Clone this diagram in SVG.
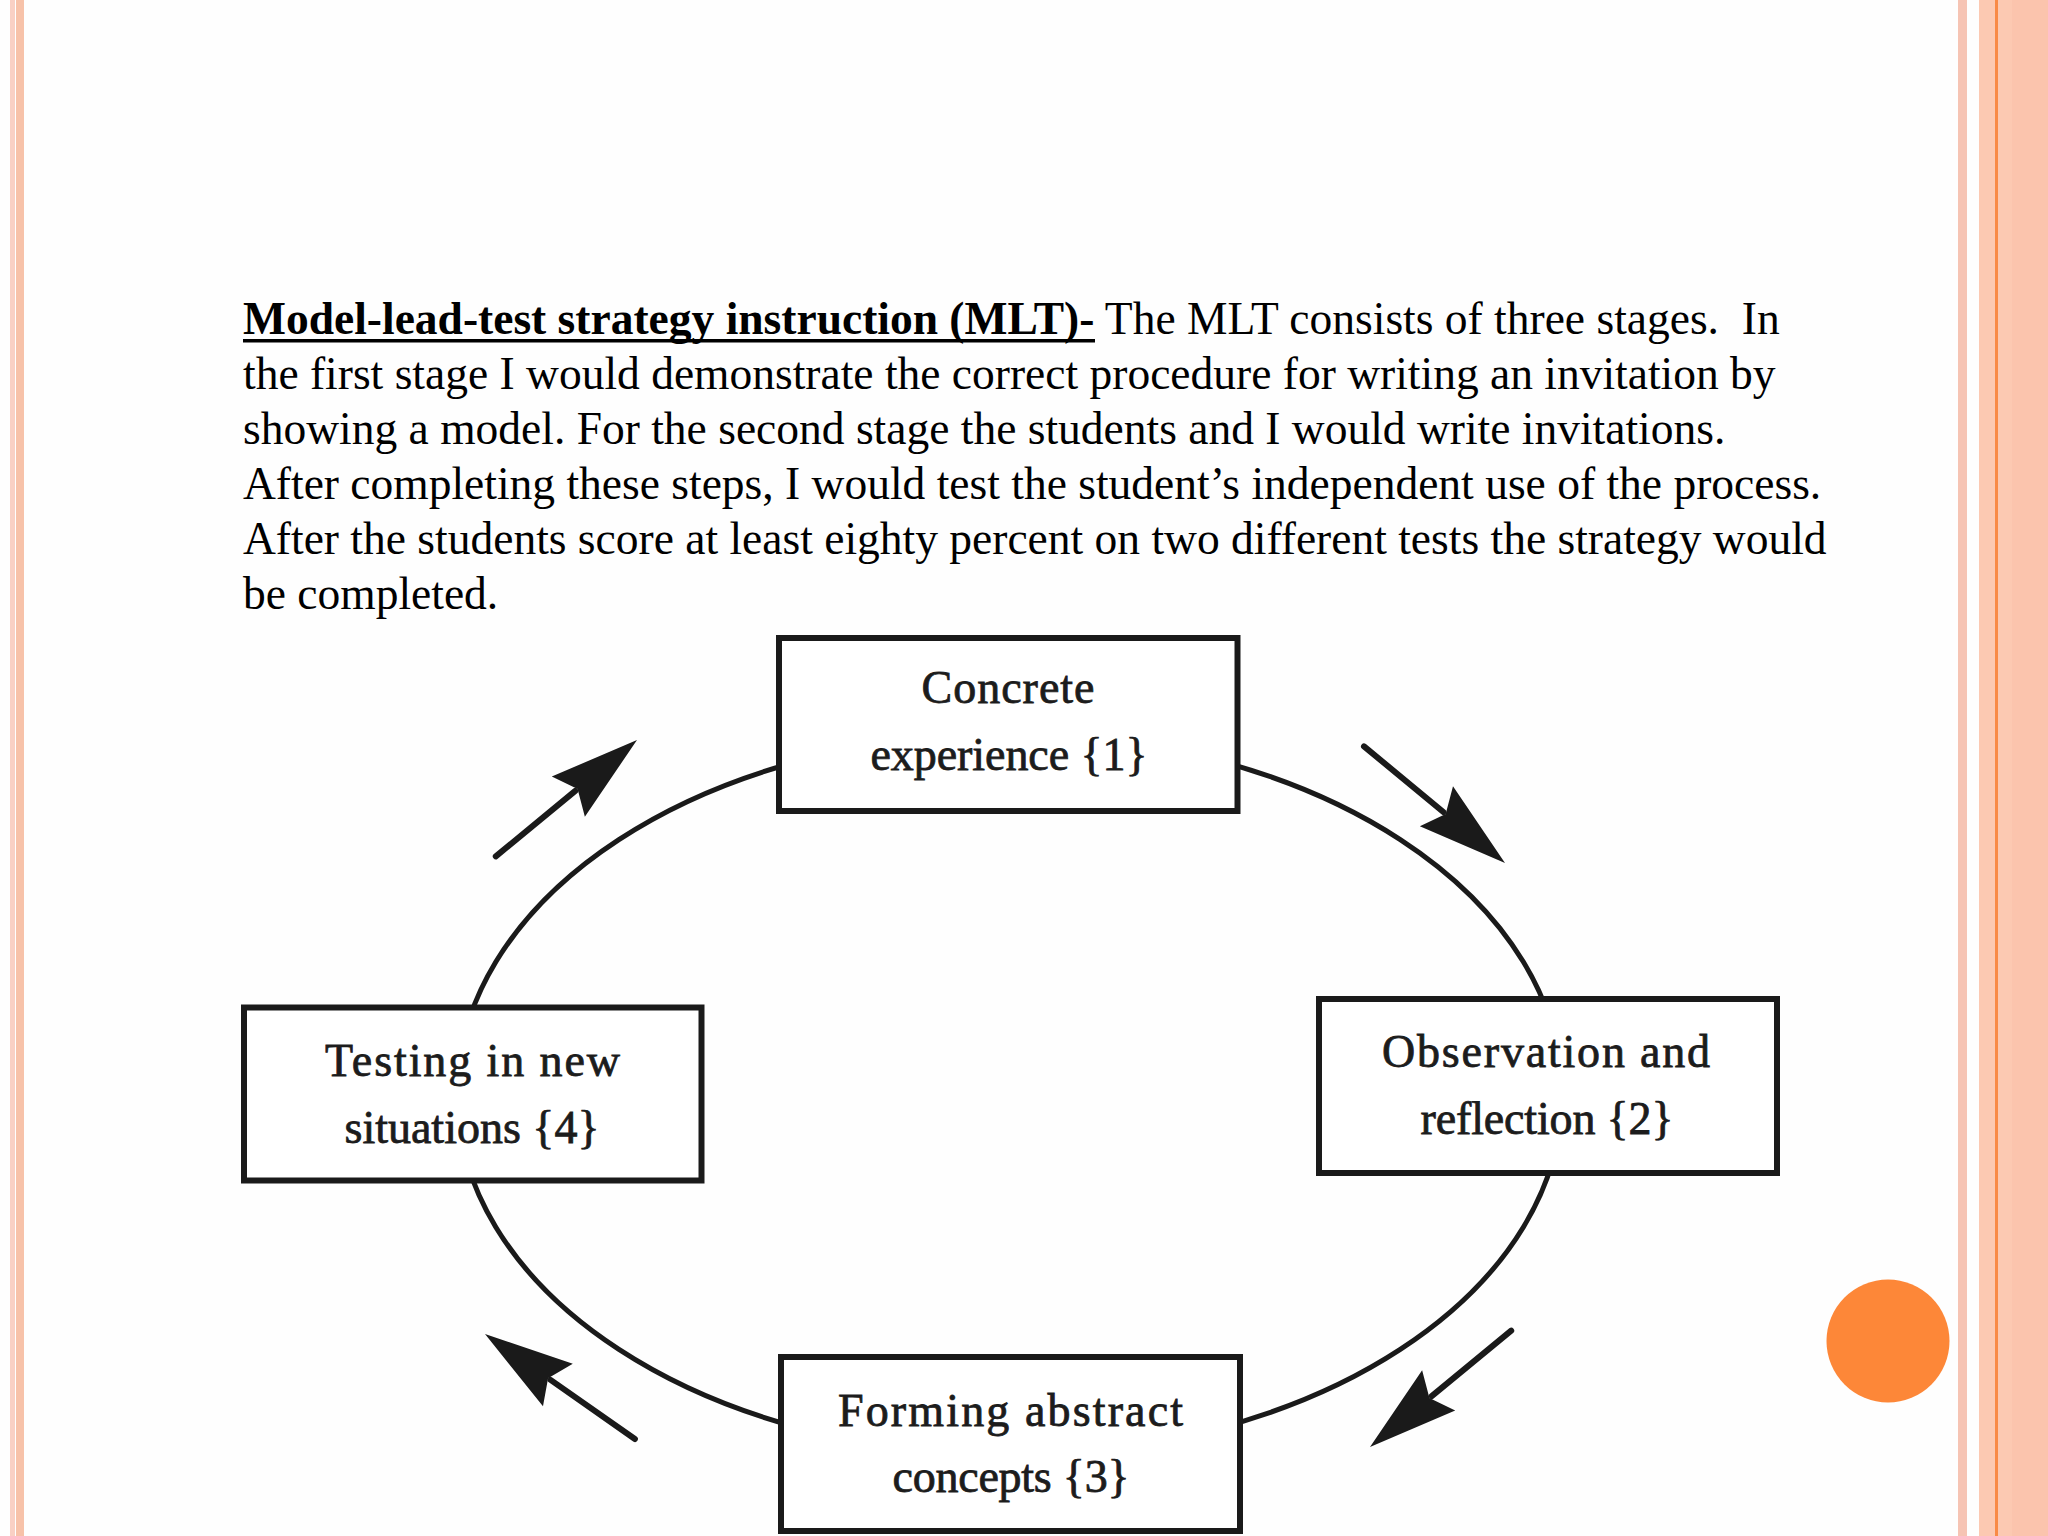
<svg xmlns="http://www.w3.org/2000/svg" xmlns:xlink="http://www.w3.org/1999/xlink" width="2048" height="1536" viewBox="0 0 2048 1536">
  <style>
    .body { font-family: "Liberation Serif", "Times New Roman", serif; font-size: 45.5px; fill: #000; }
    .bold { font-weight: bold; }
    .box { fill: #fff; stroke: #1a1a1a; stroke-width: 6; }
    .lbl { font-family: "Liberation Serif", "Times New Roman", serif; font-size: 46px; fill: #1c1c1c; stroke: #1c1c1c; stroke-width: 0.8; text-anchor: middle; }
    .cycle { fill: none; stroke: #1a1a1a; stroke-width: 5; }
  </style>
  <defs>
    <g id="arrow">
      <line x1="-183" y1="0" x2="-80" y2="0" stroke="#1a1a1a" stroke-width="6" stroke-linecap="round"/>
      <path d="M0,0 L-89,-26 L-77,0 L-89,26 Z" fill="#1a1a1a"/>
    </g>
  </defs>

  <!-- background -->
  <rect x="0" y="0" width="2048" height="1536" fill="#fefefe"/>
  <!-- left border stripes -->
  <rect x="10" y="0" width="5" height="1536" fill="#f9d0c4"/>
  <rect x="16" y="0" width="8" height="1536" fill="#f7c2a9"/>
  <!-- right border stripes -->
  <rect x="1958" y="0" width="9" height="1536" fill="#f6c4b4"/>
  <rect x="1979" y="0" width="69" height="1536" fill="#fcc9b2"/>
  <rect x="2012" y="0" width="36" height="1536" fill="#fbc4ad"/>
  <rect x="1995" y="0" width="3" height="1536" fill="#f98a46"/>
  <!-- orange circle -->
  <circle cx="1888" cy="1341" r="61.5" fill="#fd8738"/>

  <!-- paragraph -->
  <g id="paragraph">
    <text class="body" x="243" y="334" xml:space="preserve"><tspan class="bold">Model-lead-test strategy instruction (MLT)-</tspan> The MLT consists of three stages.  In</text>
    <rect x="243" y="339" width="852" height="3.5" fill="#000"/>
    <text class="body" x="243" y="389">the first stage I would demonstrate the correct procedure for writing an invitation by</text>
    <text class="body" x="243" y="444">showing a model. For the second stage the students and I would write invitations.</text>
    <text class="body" x="243" y="499">After completing these steps, I would test the student’s independent use of the process.</text>
    <text class="body" x="243" y="554">After the students score at least eighty percent on two different tests the strategy would</text>
    <text class="body" x="243" y="609">be completed.</text>
  </g>

  <!-- connectors -->
  <g id="connectors">
    <ellipse class="cycle" cx="1009.6" cy="1094.5" rx="552.5" ry="360.5"/>
    <use xlink:href="#arrow" href="#arrow" transform="translate(637,740) rotate(-39.5)"/>
    <use xlink:href="#arrow" href="#arrow" transform="translate(1505,863) rotate(39.6)"/>
    <use xlink:href="#arrow" href="#arrow" transform="translate(1370,1447) rotate(140.5)"/>
    <use xlink:href="#arrow" href="#arrow" transform="translate(485,1334) rotate(-145)"/>
  </g>

  <!-- nodes -->
  <g id="node-concrete-experience">
    <rect class="box" x="779" y="638" width="458.5" height="173"/>
    <text class="lbl" x="1008" y="703" textLength="173" lengthAdjust="spacing">Concrete</text>
    <text class="lbl" x="1009" y="770" textLength="277" lengthAdjust="spacing">experience {1}</text>
  </g>
  <g id="node-observation-reflection">
    <rect class="box" x="1319" y="999" width="458" height="174"/>
    <text class="lbl" x="1546" y="1067" textLength="328" lengthAdjust="spacing">Observation and</text>
    <text class="lbl" x="1547" y="1134" textLength="253" lengthAdjust="spacing">reflection {2}</text>
  </g>
  <g id="node-forming-abstract-concepts">
    <rect class="box" x="781" y="1357" width="459" height="174"/>
    <text class="lbl" x="1010.5" y="1426" textLength="345" lengthAdjust="spacing">Forming abstract</text>
    <text class="lbl" x="1011" y="1492" textLength="237" lengthAdjust="spacing">concepts {3}</text>
  </g>
  <g id="node-testing-new-situations">
    <rect class="box" x="244" y="1007.5" width="457.5" height="173"/>
    <text class="lbl" x="472.5" y="1076" textLength="295" lengthAdjust="spacing">Testing in new</text>
    <text class="lbl" x="472" y="1143" textLength="255" lengthAdjust="spacing">situations {4}</text>
  </g>
</svg>
